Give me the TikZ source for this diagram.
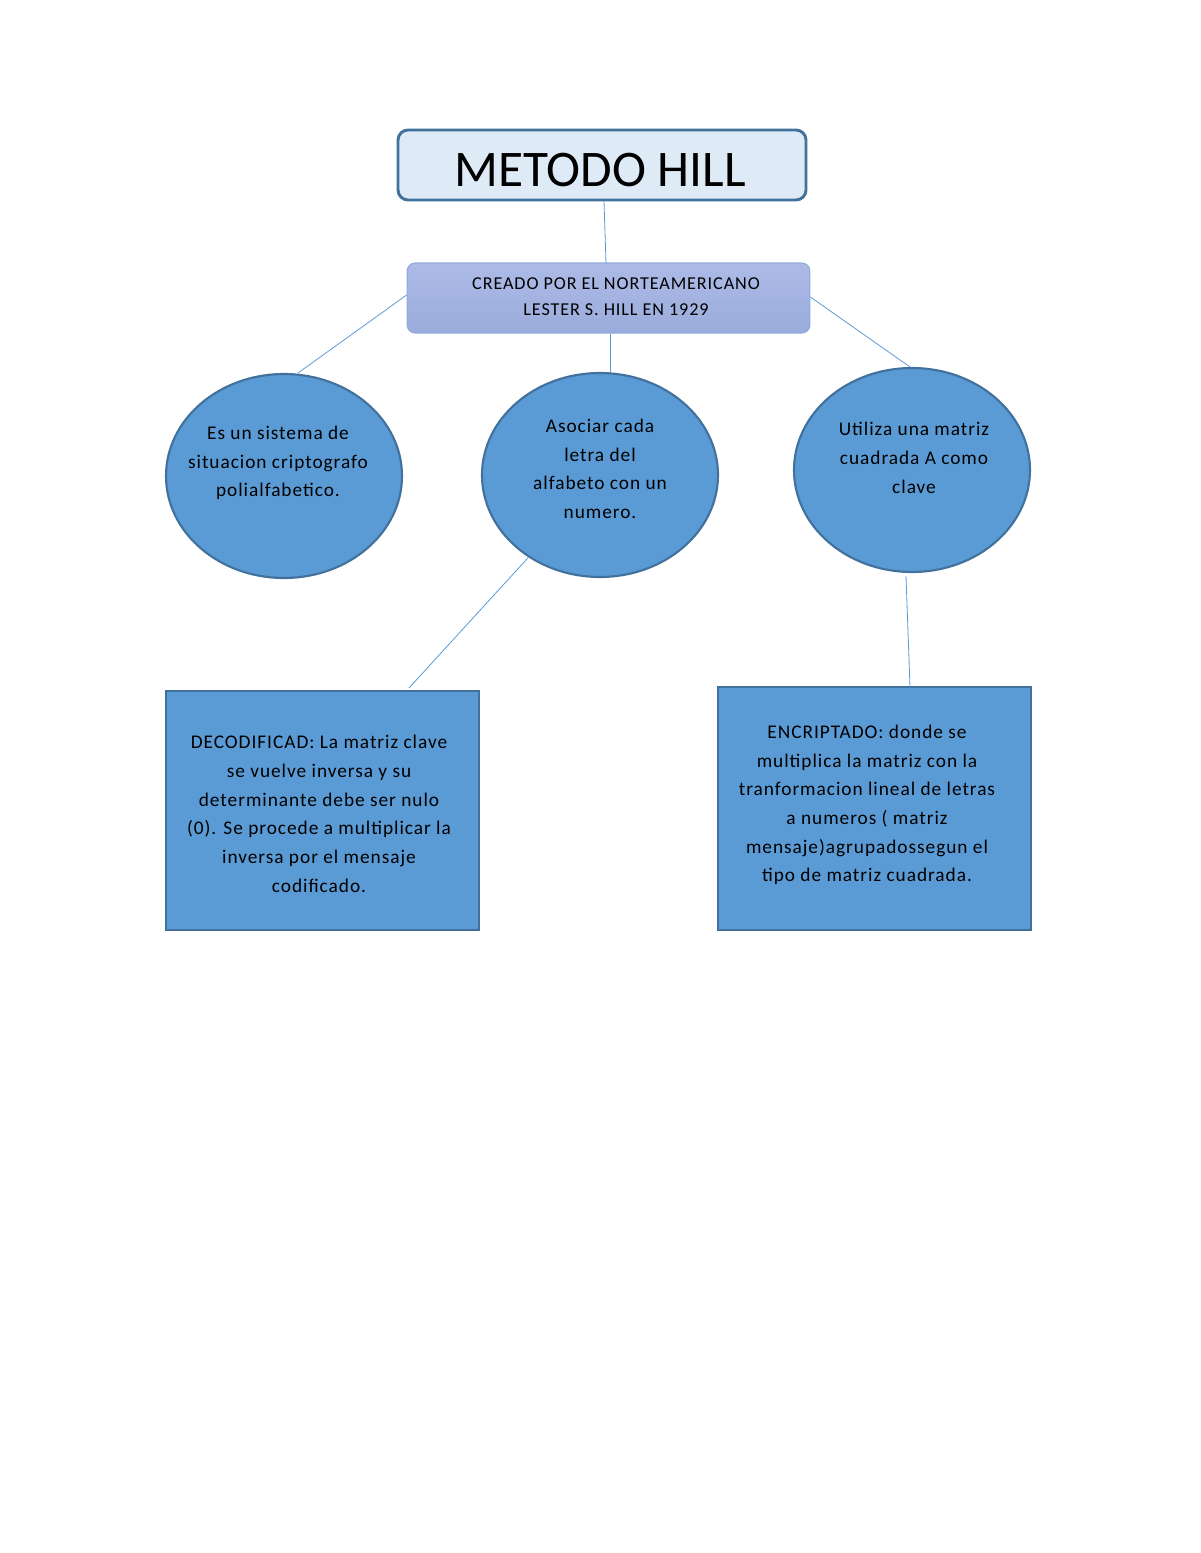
\documentclass[tikz,border=0pt]{standalone}
\usepackage{fontspec}
\setmainfont{Carlito}
\usetikzlibrary{shapes.geometric}
\definecolor{bluefill}{HTML}{5B9BD5}
\definecolor{blueline}{HTML}{41719C}
\definecolor{titlefill}{HTML}{DEEBF7}
\definecolor{lavtop}{HTML}{ADBAE6}
\definecolor{lavbot}{HTML}{9AACDC}
\definecolor{lavline}{HTML}{8FAADC}
\definecolor{conn}{HTML}{5B9BD5}
\newfontfamily\widefont[LetterSpace=5]{Carlito}
\newfontfamily\subfont[LetterSpace=5]{Carlito}
\tikzset{
  titlebox/.style={draw=blueline, line width=2.2pt, fill=titlefill, rounded corners=7.5pt, minimum width=306pt, minimum height=52.5pt, inner sep=0pt},
  subbox/.style={draw=lavline, line width=0.8pt, top color=lavtop, bottom color=lavbot, rounded corners=6pt, minimum width=302pt, minimum height=52.5pt, inner sep=0pt},
  bubble/.style={ellipse, draw=blueline, line width=1.6pt, fill=bluefill, minimum width=177pt, minimum height=153pt, inner sep=0pt},
  sqbox/.style={draw=blueline, line width=1.4pt, fill=bluefill, inner sep=0pt},
  txt/.style={align=center, font=\widefont\fontsize{14.5pt}{21.5pt}\selectfont, inner sep=0pt},
  conline/.style={draw=conn, line width=0.6pt}
}
\begin{document}
\begin{tikzpicture}[x=0.75pt,y=-0.75pt]
\useasboundingbox (0,0) rectangle (1200,1553);
% title
\node[titlebox] (title) at (602,165) {};
\node[inner sep=0pt, font=\fontsize{38.5pt}{44pt}\selectfont] (titletxt) at (600,170) {METODO HILL};
% subtitle
\node[subbox] (sub) at (608.5,298) {};
\node[align=center, inner sep=0pt, font=\subfont\fontsize{13.6pt}{19.5pt}\selectfont] (subtxt) at (616,297) {CREADO POR EL NORTEAMERICANO\\LESTER S. HILL EN 1929};
% ellipses
\node[bubble] (e1) at (284,476) {};
\node[bubble] (e2) at (600,475) {};
\node[bubble] (e3) at (912,470) {};
\node[txt] (t1) at (278,463) {Es un sistema de\\situacion criptografo\\polialfabetico.};
\node[txt] (t2) at (600,469) {Asociar cada\\letra del\\alfabeto con un\\numero.};
\node[txt] (t3) at (914,458) {Utiliza una matriz\\cuadrada A como\\clave};
% rectangles
\node[sqbox, minimum width=234.75pt, minimum height=179.25pt] (r1) at (322.5,810.5) {};
\node[sqbox, minimum width=234.75pt, minimum height=182.25pt] (r2) at (874.5,808.5) {};
\node[txt] (t4) at (319,814) {DECODIFICAD: La matriz clave\\se vuelve inversa y su\\determinante debe ser nulo\\(0). Se procede a multiplicar la\\inversa por el mensaje\\codificado.};
\node[txt] (t5) at (867,805) {ENCRIPTADO: donde se\\multiplica la matriz con la\\tranformacion lineal de letras\\a numeros ( matriz\\mensaje)agrupadossegun el\\tipo de matriz cuadrada.};
% connector end points
\coordinate (c1) at (409,688);
\coordinate (c2) at (906,576);
\coordinate (c3) at (910,687);
\coordinate (c4) at (298,373);
\coordinate (c5) at (910,367);
\coordinate (c6) at (610,372);
\coordinate (c7) at (606,263);
% connectors
\draw[conline] (title.south) ++(2,0) -- (c7);
\draw[conline] (sub.west) ++(0,-3) -- (c4);
\draw[conline] (sub.south) ++(1.5,0) -- (c6);
\draw[conline] (sub.east) ++(0,-1) -- (c5);
\draw[conline] (e2.229) -- (c1);
\draw[conline] (c2) -- (c3);
\end{tikzpicture}
\end{document}
